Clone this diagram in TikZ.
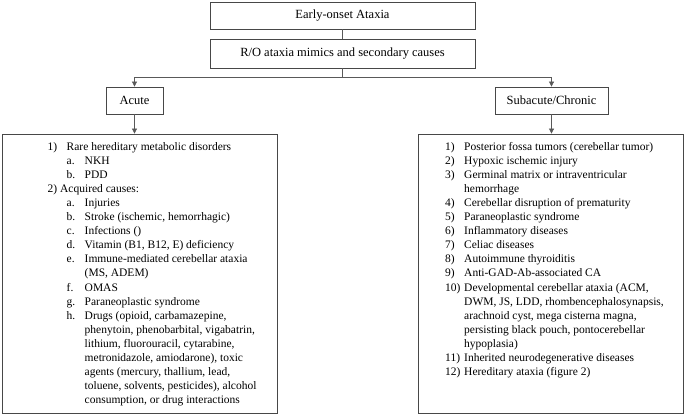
\documentclass[tikz,border=0pt]{standalone}
\usepackage{fontspec}
\setmainfont{Liberation Serif}
\usetikzlibrary{arrows.meta}
\newcommand\Lab[2]{\makebox[#1][l]{#2}}
\newcommand\Ind{\hspace*{19pt}}
\begin{document}
\begin{tikzpicture}[x=1pt,y=-1pt,
  boxline/.style={draw=black!72, line width=0.8pt},
  titlebox/.style={boxline, inner sep=0pt, font=\fontsize{12.5}{15}\selectfont, text=black},
  bigbox/.style={boxline, inner sep=0pt},
  listtext/.style={inner sep=0pt, anchor=north west, font=\fontsize{11.5}{14.1}\selectfont, text=black},
  conn/.style={draw=black!65, line width=0.7pt},
  arr/.style={conn, -{Triangle[width=5pt,length=5pt]}}]
\useasboundingbox (0,0) rectangle (685,415);

\node[titlebox, minimum width=265pt, minimum height=27pt] (top) at (342.5,15.5) {Early-onset Ataxia};
\node[titlebox, minimum width=265pt, minimum height=29pt] (ro) at (342.5,53.5) {R/O ataxia mimics and secondary causes};
\node[titlebox, minimum width=57pt, minimum height=27pt] (acute) at (134.5,100.5) {Acute};
\node[titlebox, minimum width=113pt, minimum height=27pt] (sub) at (551.5,100.5) {Subacute/Chronic};
\node[bigbox, minimum width=275pt, minimum height=279pt] (lbox) at (139.5,273.5) {};
\node[bigbox, minimum width=265pt, minimum height=279pt] (rbox) at (550.5,273.5) {};

\draw[conn] (top.south) -- (ro.north);
\draw[conn] (ro.south) -- ++(0,9) coordinate (hub);
\draw[arr] (hub) -| (acute.north);
\draw[arr] (hub) -| (sub.north);
\draw[arr] (acute.south) -- (acute.south |- lbox.north);
\draw[arr] (sub.south) -- (sub.south |- rbox.north);

\node[listtext] (llist) at (47.5,140) {%
\begin{tabular}{@{}l@{}}
\Lab{19pt}{1)}Rare hereditary metabolic disorders\\
\Ind\Lab{18pt}{a.}NKH\\
\Ind\Lab{18pt}{b.}PDD\\
2) Acquired causes:\\
\Ind\Lab{18pt}{a.}Injuries\\
\Ind\Lab{18pt}{b.}Stroke (ischemic, hemorrhagic)\\
\Ind\Lab{18pt}{c.}Infections ()\\
\Ind\Lab{18pt}{d.}Vitamin (B1, B12, E) deficiency\\
\Ind\Lab{18pt}{e.}Immune-mediated cerebellar ataxia\\
\hspace*{37pt}(MS, ADEM)\\
\Ind\Lab{18pt}{f.}OMAS\\
\Ind\Lab{18pt}{g.}Paraneoplastic syndrome\\
\Ind\Lab{18pt}{h.}Drugs (opioid, carbamazepine,\\
\hspace*{37pt}phenytoin, phenobarbital, vigabatrin,\\
\hspace*{37pt}lithium, fluorouracil, cytarabine,\\
\hspace*{37pt}metronidazole, amiodarone), toxic\\
\hspace*{37pt}agents (mercury, thallium, lead,\\
\hspace*{37pt}toluene, solvents, pesticides), alcohol\\
\hspace*{37pt}consumption, or drug interactions
\end{tabular}};

\node[listtext] (rlist) at (445,140) {%
\begin{tabular}{@{}l@{}}
\Lab{19pt}{1)}Posterior fossa tumors (cerebellar tumor)\\
\Lab{19pt}{2)}Hypoxic ischemic injury\\
\Lab{19pt}{3)}Germinal matrix or intraventricular\\
\Ind hemorrhage\\
\Lab{19pt}{4)}Cerebellar disruption of prematurity\\
\Lab{19pt}{5)}Paraneoplastic syndrome\\
\Lab{19pt}{6)}Inflammatory diseases\\
\Lab{19pt}{7)}Celiac diseases\\
\Lab{19pt}{8)}Autoimmune thyroiditis\\
\Lab{19pt}{9)}Anti-GAD-Ab-associated CA\\
\Lab{19pt}{10)}Developmental cerebellar ataxia (ACM,\\
\Ind DWM, JS, LDD, rhombencephalosynapsis,\\
\Ind arachnoid cyst, mega cisterna magna,\\
\Ind persisting black pouch, pontocerebellar\\
\Ind hypoplasia)\\
\Lab{19pt}{11)}Inherited neurodegenerative diseases\\
\Lab{19pt}{12)}Hereditary ataxia (figure 2)
\end{tabular}};
\end{tikzpicture}
\end{document}
